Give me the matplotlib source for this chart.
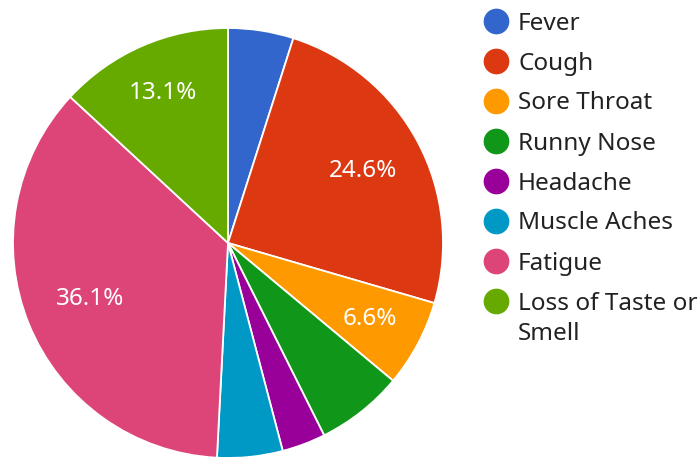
import matplotlib.pyplot as plt
from matplotlib.lines import Line2D
import numpy as np

plt.rcParams['font.family'] = ['Noto Sans', 'DejaVu Sans']

labels = ["Fever", "Cough", "Sore Throat", "Runny Nose", "Headache",
          "Muscle Aches", "Fatigue", "Loss of Taste or\nSmell"]
counts = [3, 15, 4, 4, 2, 3, 22, 8]
colors = ["#3366cc", "#dc3912", "#ff9900", "#109618", "#990099",
          "#0099c6", "#dd4477", "#66aa00"]
# which slices get a percentage label, and how far out (fraction of radius)
show_pct = [False, True, True, False, False, False, True, True]
pct_dist = [0, 0.71, 0.75, 0, 0, 0, 0.69, 0.76]

W, H = 699, 457
fig = plt.figure(figsize=(W / 100, H / 100), dpi=100)
cx, cy, R = 228, 243, 215
ax = fig.add_axes([(cx - R) / W, (H - cy - R) / H, 2 * R / W, 2 * R / H])

wedges, _ = ax.pie(counts, colors=colors, startangle=90, counterclock=False,
                   radius=1, wedgeprops=dict(edgecolor="white", linewidth=1.3))
ax.set_xlim(-1, 1)
ax.set_ylim(-1, 1)
ax.set_aspect("equal")
ax.axis("off")

fs = 17.5
total = sum(counts)
for w, c, s, d in zip(wedges, counts, show_pct, pct_dist):
    if not s:
        continue
    ang = np.deg2rad((w.theta1 + w.theta2) / 2)
    ax.text(d * np.cos(ang), d * np.sin(ang), f"{100 * c / total:.1f}%",
            ha="center", va="center", color="white", fontsize=fs)

# legend (pixel rows from the top, text placed on baseline)
lx, tx = 496, 518
rows = [20.5 + 40 * i for i in range(len(labels))]
for y, lab, col in zip(rows, labels, colors):
    fy = 1 - y / H
    fig.add_artist(Line2D([lx / W], [fy], marker="o", markersize=17.5,
                          markerfacecolor=col, markeredgecolor=col,
                          transform=fig.transFigure))
    for k, part in enumerate(lab.split("\n")):
        fig.text(tx / W, 1 - (y + 9 + 31 * k) / H, part, ha="left", va="baseline",
                 fontsize=fs, color="#222222")

fig.savefig("out.png", dpi=100)
